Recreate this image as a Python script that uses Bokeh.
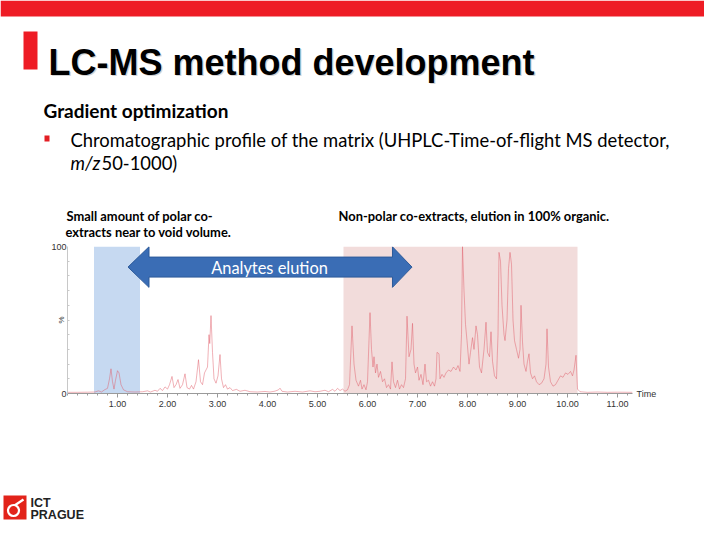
from bokeh.plotting import figure
from bokeh.models import Range1d, FixedTicker, NumeralTickFormatter, LinearAxis, CustomJSTickFormatter
from bokeh.layouts import column
from bokeh.core.properties import value
from bokeh.embed import file_html
from bokeh.resources import INLINE

# ---------------- data ----------------
time_min = [
    0.00, 0.20, 0.40, 0.55, 0.62, 0.68, 0.74, 0.80, 0.84, 0.87, 0.90, 0.93, 0.96, 1.00, 1.03, 1.07,
    1.12, 1.20, 1.35, 1.50, 1.60, 1.66, 1.75, 1.80, 1.85, 1.90, 1.95, 2.00, 2.04, 2.09, 2.13, 2.17,
    2.21, 2.25, 2.30, 2.35, 2.39, 2.44, 2.48, 2.52, 2.57, 2.62, 2.66, 2.70, 2.74, 2.77, 2.80, 2.83,
    2.845, 2.87, 2.90, 2.93, 2.97, 3.01, 3.05, 3.08, 3.12, 3.16, 3.20, 3.25, 3.30, 3.38, 3.45, 3.55,
    3.65, 3.80, 3.95, 4.05, 4.15, 4.22, 4.25, 4.29, 4.40, 4.55, 4.70, 4.85, 4.95, 5.05, 5.15, 5.22,
    5.30, 5.35, 5.40, 5.45, 5.50, 5.55, 5.60, 5.64, 5.69, 5.73, 5.77, 5.82, 5.86, 5.89, 5.93, 5.97,
    6.00, 6.05, 6.08, 6.11, 6.13, 6.16, 6.19, 6.22, 6.26, 6.30, 6.34, 6.38, 6.42, 6.46, 6.49, 6.52,
    6.56, 6.60, 6.64, 6.68, 6.72, 6.76, 6.79, 6.83, 6.87, 6.90, 6.93, 6.96, 7.00, 7.03, 7.07, 7.11,
    7.15, 7.18, 7.22, 7.26, 7.30, 7.34, 7.37, 7.39, 7.43, 7.45, 7.49, 7.53, 7.57, 7.62, 7.67, 7.72,
    7.77, 7.81, 7.85, 7.88, 7.90, 7.93, 7.96, 7.99, 8.03, 8.06, 8.10, 8.13, 8.17, 8.20, 8.24, 8.28,
    8.33, 8.37, 8.40, 8.44, 8.47, 8.50, 8.54, 8.58, 8.61, 8.63, 8.66, 8.69, 8.73, 8.75, 8.79, 8.82,
    8.85, 8.88, 8.91, 8.94, 8.98, 9.02, 9.05, 9.07, 9.10, 9.13, 9.17, 9.20, 9.23, 9.26, 9.30, 9.34,
    9.38, 9.43, 9.48, 9.53, 9.57, 9.59, 9.62, 9.66, 9.71, 9.76, 9.81, 9.86, 9.91, 9.96, 10.01, 10.06,
    10.10, 10.13, 10.17, 10.20, 10.25, 10.40, 10.60, 10.80, 11.00, 11.30,
]
intensity_pct = [
    0.8, 0.8, 0.9, 1.0, 1.8, 1.0, 2.5, 3.5, 10, 16.8, 8, 3, 9, 15.5, 14, 6,
    2.5, 1.2, 1.0, 1.2, 1.8, 1.0, 2.2, 1.5, 3.5, 2.0, 4.5, 3.0, 6, 11.6, 4, 6,
    9.5, 3.5, 6, 13.4, 4, 3, 5.5, 3, 8, 23, 8, 6, 14, 16, 18, 40,
    34, 53, 28, 10, 7, 12, 26.5, 10, 4, 6, 3, 4, 2, 2.8, 1.5, 2.2,
    1.2, 1.0, 1.4, 1.0, 1.6, 2.5, 3.6, 1.5, 1.0, 1.5, 1.0, 1.8, 1.2, 1.5, 2.2, 1.2,
    2.8, 1.5, 3.5, 2.0, 3.0, 1.5, 2.5, 6, 46, 20, 9, 5, 9, 3, 6, 2.5,
    8, 55, 30, 18, 25, 14, 20, 11, 15, 8, 10, 4, 6, 3, 21.5, 8,
    4, 9, 3, 6, 4, 10, 52.6, 25, 30, 47.7, 20, 14, 18, 9, 13, 6,
    20, 8, 9, 5, 8, 5, 10, 28, 27, 10, 13, 11, 14, 16, 15, 18,
    16, 19, 15, 40, 100, 70, 47, 36, 20, 28, 38, 30, 46, 40, 18, 14,
    30, 48.5, 28, 25, 42, 22, 12, 10, 40, 96, 90, 60, 40, 36, 50, 85,
    96, 88, 50, 36, 30, 24, 30, 60, 35, 20, 15, 22, 27, 14, 10, 12,
    8, 6, 7, 10, 20, 44, 18, 8, 5, 6, 9, 12, 11, 14, 13, 15,
    12, 16, 26, 3, 1.2, 0.8, 1.0, 0.8, 0.9, 0.8,
]
region_labels = ["polar co-extracts", "non-polar co-extracts"]
region_start = [0.53, 5.52]
region_end = [1.45, 10.20]
region_top = [100, 100]

arrow_from = 1.21      # min
arrow_to = 6.89        # min
arrow_level = 86       # %
arrow_text = "Analytes elution"

x_ticks = [1, 2, 3, 4, 5, 6, 7, 8, 9, 10, 11]
y_ticks = [0, 100]
x_axis_name = "Time"
y_axis_name = "%"

W = 704
TOP_H = 240
CHART_H = 175
BOT_H = 524 - TOP_H - CHART_H


def blank(width, height):
    f = figure(width=width, height=height, x_range=Range1d(0, width), y_range=Range1d(height, 0),
               output_backend="svg", toolbar_location=None, min_border=0,
               x_axis_location=None, y_axis_location=None, frame_align=False)
    f.grid.visible = False
    f.outline_line_color = None
    f.background_fill_color = "white"
    f.border_fill_color = "white"
    return f


def txt(f, x, y, text, size, style="normal", color="black", font="Lato",
        align="left", baseline="middle"):
    f.text(x=[x], y=[y], text=[text], text_font=value(font), text_font_size=size,
           text_font_style=style, text_color=color, text_align=align, text_baseline=baseline)


def rect(f, l, t, r, b, color):
    f.quad(left=[l], right=[r], top=[t], bottom=[b], fill_color=color, line_color=None)


# ---------------- top part of the slide ----------------
top = blank(W, TOP_H)
rect(top, 0, 0, W, 16, "#ee1c25")
rect(top, 23, 31, 37, 69, "#ee1c25")
txt(top, 49.2, 63.2, "LC-MS method development", "36px", "bold", "#d2d2d2", "Liberation Sans", baseline="alphabetic")
txt(top, 48, 62, "LC-MS method development", "36px", "bold", "black", "Liberation Sans", baseline="alphabetic")
txt(top, 43, 110, "Gradient optimization", "19px", "bold")
rect(top, 44, 135, 49, 141, "#e31e24")
txt(top, 70, 139, "Chromatographic profile of the matrix (UHPLC-Time-of-flight MS detector,", "18.4px")
txt(top, 70, 162, "m/z", "18.4px", "italic")
txt(top, 101, 162, "50-1000)", "18.4px")
txt(top, 66, 215, "Small amount of polar co-", "12.9px", "bold")
txt(top, 65, 231, "extracts near to void volume.", "12.9px", "bold")
txt(top, 338, 215, "Non-polar co-extracts, elution in 100% organic.", "12.9px", "bold")

# ---------------- chromatogram ----------------
p = figure(width=W, height=CHART_H, x_range=Range1d(0, 11.3), y_range=Range1d(0, 100),
           output_backend="svg", toolbar_location=None, frame_align=False,
           min_border_left=67, min_border_right=72, min_border_top=6, min_border_bottom=22)
p.grid.visible = False
p.outline_line_color = None
p.background_fill_color = "white"
p.border_fill_color = "white"

p.quad(left=region_start, right=region_end, bottom=[0, 0], top=region_top,
       fill_color=["#c6d9f1", "#f2dcdb"], line_color=None)
p.line(time_min, intensity_pct, line_color="#e05a68", line_alpha=0.6, line_width=0.8)

head_h, body_h = 13.8, 6.8
head_w = 0.42
xs = [arrow_from, arrow_from + head_w, arrow_from + head_w, arrow_to - head_w * 0.93,
      arrow_to - head_w * 0.93, arrow_to, arrow_to - head_w * 0.93, arrow_to - head_w * 0.93,
      arrow_from + head_w, arrow_from + head_w]
ys = [arrow_level, arrow_level + head_h, arrow_level + body_h, arrow_level + body_h,
      arrow_level + head_h, arrow_level, arrow_level - head_h, arrow_level - body_h,
      arrow_level - body_h, arrow_level - head_h]
p.patch(xs, ys, fill_color="#3a6db5", line_color="#2d5a99", line_width=1)
p.text(x=[(arrow_from + arrow_to) / 2 - 0.01], y=[arrow_level - 0.5], text=[arrow_text],
       text_color="white", text_font=value("Lato"), text_font_size="16.4px",
       text_align="center", text_baseline="middle")

p.xaxis.ticker = FixedTicker(ticks=x_ticks, minor_ticks=[round(i * 0.2, 1) for i in range(0, 57)])
p.xaxis.formatter = NumeralTickFormatter(format="0.00")
p.xaxis.axis_line_color = "#9a9a9a"
p.xaxis.major_tick_line_color = "#9a9a9a"
p.xaxis.minor_tick_line_color = "#9a9a9a"
p.xaxis.major_tick_in = 0
p.xaxis.major_tick_out = 4
p.xaxis.minor_tick_in = 0
p.xaxis.minor_tick_out = 2
p.xaxis.major_label_standoff = 3
p.xaxis.major_label_text_font = "Liberation Sans"
p.xaxis.major_label_text_font_size = "9px"
p.xaxis.major_label_text_color = "#333333"

p.yaxis.ticker = FixedTicker(ticks=y_ticks, minor_ticks=[10, 20, 30, 40, 50, 60, 70, 80, 90])
p.yaxis.axis_line_color = "#c8c8c8"
p.yaxis.major_tick_line_color = "#c8c8c8"
p.yaxis.minor_tick_line_color = "#c8c8c8"
p.yaxis.major_tick_in = 0
p.yaxis.major_tick_out = 0
p.yaxis.minor_tick_in = 2
p.yaxis.minor_tick_out = 0
p.yaxis.major_label_standoff = 1
p.yaxis.major_label_text_font = "Liberation Sans"
p.yaxis.major_label_text_font_size = "9px"
p.yaxis.major_label_text_color = "#333333"
p.yaxis.axis_label = y_axis_name
p.yaxis.axis_label_text_font = "Liberation Sans"
p.yaxis.axis_label_text_font_size = "8px"
p.yaxis.axis_label_text_font_style = "normal"
p.yaxis.axis_label_text_color = "#333333"
p.yaxis.axis_label_standoff = -18

# "Time" written at the right end of the time axis (a tick-less right axis with one label at 0 %)
time_axis = LinearAxis(ticker=FixedTicker(ticks=[0], minor_ticks=[]),
                       formatter=CustomJSTickFormatter(code="return %r" % x_axis_name),
                       axis_line_color=None, major_tick_line_color=None, minor_tick_line_color=None,
                       major_tick_in=0, major_tick_out=0, minor_tick_in=0, minor_tick_out=0,
                       major_label_standoff=4, major_label_text_font="Liberation Sans",
                       major_label_text_font_size="9px", major_label_text_color="#333333")
p.add_layout(time_axis, "right")

# ---------------- bottom part (logo) ----------------
bot = blank(W, BOT_H)
rect(bot, 3, 80, 26, 104, "#e2231a")
bot.scatter(x=[13], y=[95], size=11, marker="circle", fill_alpha=0, line_color="white", line_width=2.2)
bot.segment(x0=[14], y0=[90], x1=[23], y1=[84], line_color="white", line_width=2.2)
txt(bot, 30, 87, "ICT", "12.5px", "bold", "#222222", "Liberation Sans")
txt(bot, 30, 99, "PRAGUE", "12.5px", "bold", "#222222", "Liberation Sans")

layout = column(top, p, bot)
open("out.html", "w").write(file_html(layout, INLINE))
